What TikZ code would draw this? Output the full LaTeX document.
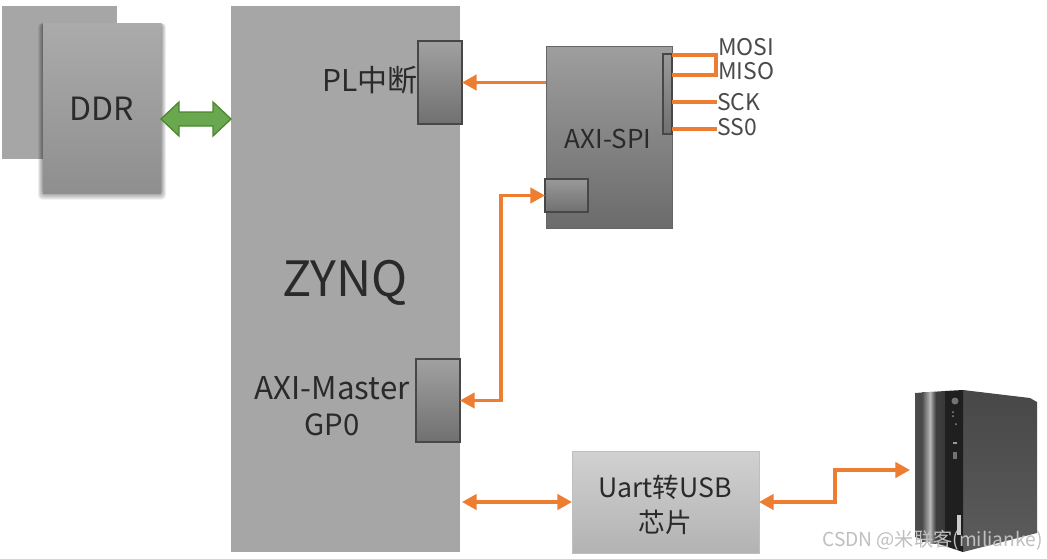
\documentclass[tikz,border=0pt]{standalone}
\usepackage{fontspec}
\setmainfont{Noto Sans CJK SC}
\usetikzlibrary{arrows.meta,calc}
\definecolor{org}{HTML}{ED7D31}
\definecolor{txt}{HTML}{2A2A2A}
\definecolor{lnkfill}{RGB}{106,168,79}
\definecolor{lnkline}{RGB}{78,135,48}
\tikzset{
  x=0.75pt,y=-0.75pt,
  block/.style={draw=none,inner sep=0pt,outer sep=0pt,text=txt},
  flat/.style={block,fill=#1},
  grad/.style 2 args={block,top color=#1,bottom color=#2},
  port/.style={block,draw=black!72,line width=0.8pt,top color=#1,bottom color=black!56},
  wire/.style={draw=org,line width=2.5pt},
  thin wire/.style={draw=org,line width=2.4pt},
  arr/.style={wire,-{Triangle[length=11pt,width=11.5pt]}},
  biarr/.style={wire,{Triangle[length=11pt,width=11.5pt]}-{Triangle[length=11pt,width=11.5pt]}},
  lab/.style={inner sep=0pt,text=txt,font=\fontsize{#1}{#1}\selectfont},
  pin/.style={inner sep=0pt,anchor=west,text=txt!85,font=\fontsize{17.2}{18}\selectfont},
  halo/.style={fill=black,fill opacity=.07,rounded corners=3pt},
}
\begin{document}
\begin{tikzpicture}
\useasboundingbox (0,0) rectangle (1047,558);
\fill[white] (0,0) rectangle (1047,558);
% DDR
\node[flat=black!35,minimum width=115*0.75pt,minimum height=153*0.75pt] (ddrback) at (59.5,82.5) {};
\foreach \g in {1,2,...,6}{
  \fill[halo] (43-\g*0.8,23) rectangle (161+\g*0.8,193+\g*1.1);
}
\node[grad={black!33}{black!44},minimum width=118*0.75pt,minimum height=170*0.75pt] (ddr) at (102,108) {};
\node[lab=24] at (102,109) {DDR};
% ZYNQ
\node[flat=black!35,minimum width=229*0.75pt,minimum height=546*0.75pt] (zynq) at (345.5,279) {};
\node[lab=36.5] at (345,283) {ZYNQ};
% DDR link
\coordinate (ll) at (ddr.east |- 0,119);
\coordinate (lr) at (zynq.west |- ll);
\draw[draw=lnkline,line width=1pt,fill=lnkfill,line join=miter]
  (ll) -- ++(18,-17) -- ++(0,10) -- ($(lr)+(-18,-7)$) -- ++(0,-10) -- (lr)
  -- ++(-18,17) -- ++(0,-10) -- ($(ll)+(18,7)$) -- ++(0,10) -- cycle;
% PL port
\node[port=black!37,minimum width=44*0.75pt,minimum height=83*0.75pt] (plport) at (440,82.5) {};
\node[lab=22.5] at (370,80) {PL中断};
% Master port
\node[port=black!37,minimum width=44*0.75pt,minimum height=83*0.75pt] (mport) at (438,400.5) {};
\node[lab=23.5] at (332,388) {AXI-Master};
\node[lab=22] at (332,425) {GP0};
% AXI-SPI
\node[block,draw=black!60,line width=0.6pt,top color=black!38,bottom color=black!58,minimum width=126*0.75pt,minimum height=182*0.75pt] (spi) at (609,137) {};
\node[lab=19.5] at (608,139) {AXI-SPI};
\node[port=black!40,minimum width=43*0.75pt,minimum height=33*0.75pt] (sport) at (566.5,195.5) {};
\node[port=black!40,minimum width=9*0.75pt,minimum height=80*0.75pt] (strip) at (667.5,94) {};
% pins
\node[pin] (mosi) at (718,47) {MOSI};
\node[pin] (miso) at (718,71) {MISO};
\node[pin] (sck) at (717,102) {SCK};
\node[pin] (sso) at (717,127) {SS0};
\coordinate (pa) at (672,55);
\coordinate (pb) at (672,75);
\coordinate (pc) at (672,102);
\coordinate (pd) at (672,129);
\coordinate (loopa) at (716,55);
\coordinate (loopb) at (716,75);
\draw[thin wire] (pa) -- (loopa) -- (loopb) -- (pb);
\draw[thin wire] (pc) -- (sck.west);
\draw[thin wire] (pd) -- (sso.west |- pd);
% arrows
\draw[arr] (spi.west |- plport.east) -- (plport.east);
\coordinate (bus) at (501,300);
\draw[biarr] (sport.west) -| (bus) |- (mport.east);
% Uart
\node[block,draw=black!25,line width=0.6pt,top color=black!18,bottom color=black!30,minimum width=187*0.75pt,minimum height=102*0.75pt] (uart) at (665.5,502) {};
\node[lab=20] at (665,487) {Uart转USB};
\node[lab=20] at (665,522) {芯片};
\coordinate (zport) at (462,502);
\draw[biarr] (zport) -- (uart.west);
% PC
\shade[top color=black!72,bottom color=black!64] (963,390) -- (1030,398) -- (1037,402) -- (1037,533) -- (963,552) -- cycle;
\shade[left color=black!70,right color=black!78] (915,393) -- (945,391) -- (945,546) -- (915,537) -- cycle;
\shade[left color=black!70,right color=black!28] (922,392) rectangle (930,541);
\shade[left color=black!28,right color=black!78] (930,392) rectangle (936,543);
\fill[black!88] (945,391) -- (963,390) -- (963,552) -- (945,546) -- cycle;
\fill[black!55] (955,401) circle (3.5);
\fill[black!45] (953,412) circle (1) (953,416) circle (1) (956,424) circle (1);
\fill[black!40] (953,442) rectangle (957,444);
\fill[black!55] (953,452) rectangle (957,459);
\fill[black!20] (957,515) rectangle (961,535);
\coordinate (pcin) at (910,470);
\coordinate (bend) at (835,486);
\draw[biarr] (uart.east) -| (bend) |- (pcin);
% watermark
\node[inner sep=0pt,anchor=east,text=black!25,font=\fontsize{14.4}{15}\selectfont] (mark) at (1043,540) {CSDN @米联客(milianke)};
\end{tikzpicture}
\end{document}
